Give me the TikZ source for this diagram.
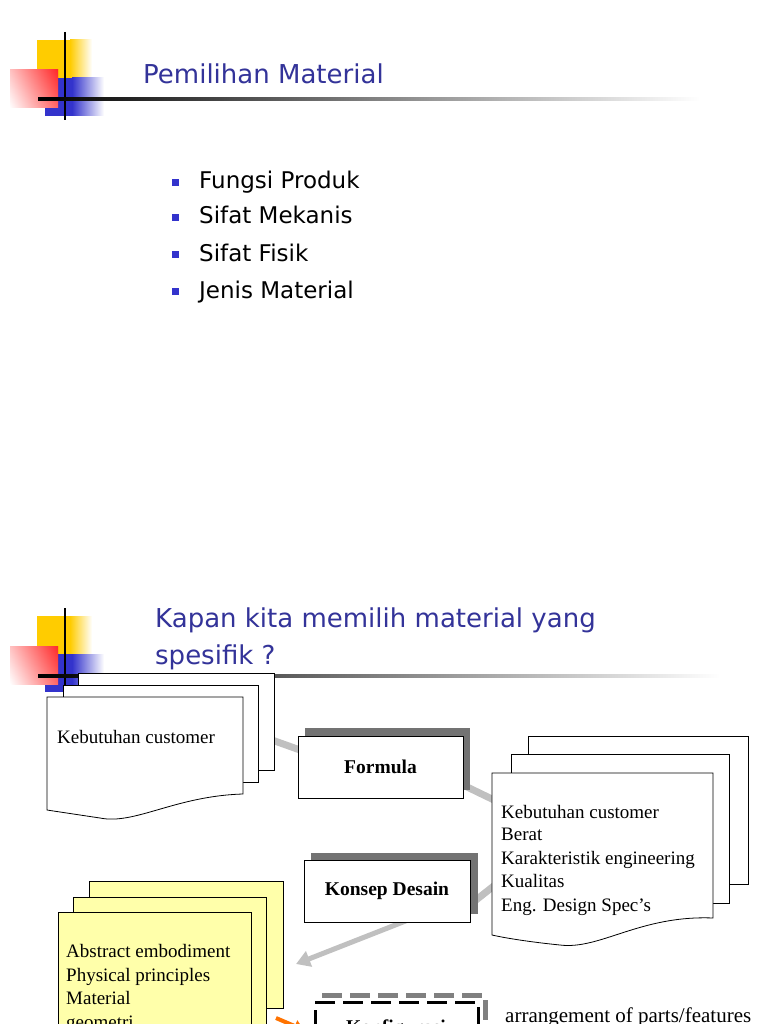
\documentclass[tikz,border=0pt]{standalone}
\usepackage{fontspec}
\setsansfont{DejaVu Sans}
\setmainfont{Liberation Serif}
\usetikzlibrary{arrows.meta,shapes.geometric}
\definecolor{navy}{HTML}{333399}
\definecolor{bul}{HTML}{3333CC}
\definecolor{lgold}{HTML}{FFCC00}
\definecolor{lblue}{HTML}{3333CC}
\definecolor{pale}{HTML}{FFFFAA}
\definecolor{conn}{HTML}{C0C0C0}
\tikzset{
 ttl/.style={anchor=base west,font=\sffamily\fontsize{26}{30}\selectfont,text=navy,inner sep=0},
 bl/.style={anchor=base west,font=\sffamily\fontsize{23}{25}\selectfont,inner sep=0},
 dtxt/.style={anchor=base west,font=\fontsize{19}{22}\selectfont,inner sep=0},
 page/.style={draw=black,line width=0.8pt,fill=white},
 bbox/.style={draw=black,line width=0.9pt,fill=white,minimum width=165pt,minimum height=62pt,font=\bfseries\fontsize{19.5}{22}\selectfont},
 shad/.style={fill=gray!90!black},
 cline/.style={conn,line width=7pt},
}
\newcommand{\mylogo}[1]{%
 \begin{scope}[yshift=#1]
 \fill[lgold] (37,40) rectangle (70,78);
 \shade[left color=lgold,right color=white] (70,40) rectangle (92,78);
 \fill[lblue] (45,78) rectangle (72,116);
 \shade[left color=lblue,right color=white] (72,78) rectangle (104,116);
 \shade[left color=white,right color=red] (10,70) rectangle (58,108);
 \shade[top color=red!60,bottom color=white,opacity=0.4] (10,70) rectangle (58,108);
 \draw[black,line width=2.2pt] (65,32) -- (65,120);
 \end{scope}}
\begin{document}
\begin{tikzpicture}[x=1pt,y=-1pt]
\useasboundingbox (0,0) rectangle (768,1024);
\clip (0,0) rectangle (768,1024);
\fill[white] (0,0) rectangle (768,1024);
% top slide
\mylogo{0pt}
\shade[left color=black,right color=white] (38,97.5) rectangle (700,100.5);
\fill[black] (38,97.5) rectangle (60,100.5);
\node[ttl] (t1) at (143,84) {Pemilihan Material};
\foreach \y/\t [count=\i] in {189/Fungsi Produk,224/Sifat Mekanis,261/Sifat Fisik,298/Jenis Material}{
 \fill[bul] (172,\y-10) rectangle (179,\y-3);
 \node[bl] (b\i) at (199,\y) {\t};
}
% second slide
\mylogo{-576pt}
\shade[left color=black,right color=white] (38,674.5) rectangle (720,677.5);
\node[ttl] (t2) at (155,627) {Kapan kita memilih material yang};
\node[ttl] (t3) at (155,664) {spesifik ?};
% connectors
\coordinate (c1a) at (272,740); \coordinate (c1b) at (300,750);
\draw[cline] (c1a) -- (c1b);
\coordinate (c2a) at (463,785); \coordinate (c2b) at (494,800);
\draw[cline] (c2a) -- (c2b);
\coordinate (c3a) at (495,885); \coordinate (c3b) at (476,900);
\draw[cline] (c3a) -- (c3b);
\coordinate (ar1) at (408,920); \coordinate (ar2) at (296,964);
\draw[conn,line width=5pt,-{Triangle[length=14pt,width=16pt]}] (ar1) -- (ar2);
% left doc stack
\draw[page] (78,673) rectangle (274,770);
\draw[page] (63,685) rectangle (258,782);
\draw[page] (47,697) -- (243,697) -- (243,794) .. controls (175,796) and (135,825) .. (100,818) .. controls (80,815) and (60,812) .. (47,810) -- cycle;
\node[dtxt] (k1) at (57,743) {Kebutuhan customer};
% formula
\fill[shad] (305,728) rectangle (470,790);
\node[bbox] (formula) at (380.5,767) {Formula};
% right doc stack
\draw[page] (528,736) rectangle (748,884);
\draw[page] (511,754) rectangle (729,903);
\draw[page] (492,773) -- (713,773) -- (713,918) .. controls (640,915) and (600,950) .. (560,945) .. controls (530,942) and (505,938) .. (492,935) -- cycle;
\foreach \y/\t [count=\i] in {818/Kebutuhan customer,840/Berat,864/Karakteristik engineering,887/Kualitas}{
 \node[dtxt] (r\i) at (501,\y) {\t};}
\node[dtxt] (r5) at (501,911) {Eng. Design Spec’s};
% konsep desain
\fill[shad] (311,853) rectangle (478,914);
\node[bbox,minimum width=166pt] (konsep) at (387,891) {Konsep Desain};
% yellow stack
\draw[page,fill=pale] (89,881) rectangle (283,1008);
\draw[page,fill=pale] (73,897) rectangle (266,1030);
\draw[page,fill=pale] (58,912) rectangle (251,1040);
\foreach \y/\t [count=\i] in {957/Abstract embodiment,981/Physical principles,1004/Material,1028/geometri}{
 \node[dtxt] (y\i) at (66,\y) {\t};}
% orange arrow
\coordinate (o1) at (276,1018); \coordinate (o2) at (304,1030);
\draw[orange!90!red,line width=4pt,-{Triangle[length=10pt,width=12pt]}] (o1) -- (o2);
% konfigurasi
\draw[gray,line width=5pt,dash pattern=on 20pt off 8pt] (322,995) -- (485,995) -- (485,1030);
\draw[black,line width=3pt,dash pattern=on 20pt off 8pt] (315,1030) -- (315,1002) -- (478,1002) -- (478,1030);
\node[font=\bfseries\fontsize{19.5}{22}\selectfont,anchor=base] (konf) at (396,1033) {Konfigurasi};
\node[anchor=base west,font=\fontsize{21}{24}\selectfont,inner sep=0] (arr) at (505,1022) {arrangement of parts/features};
\end{tikzpicture}
\end{document}
